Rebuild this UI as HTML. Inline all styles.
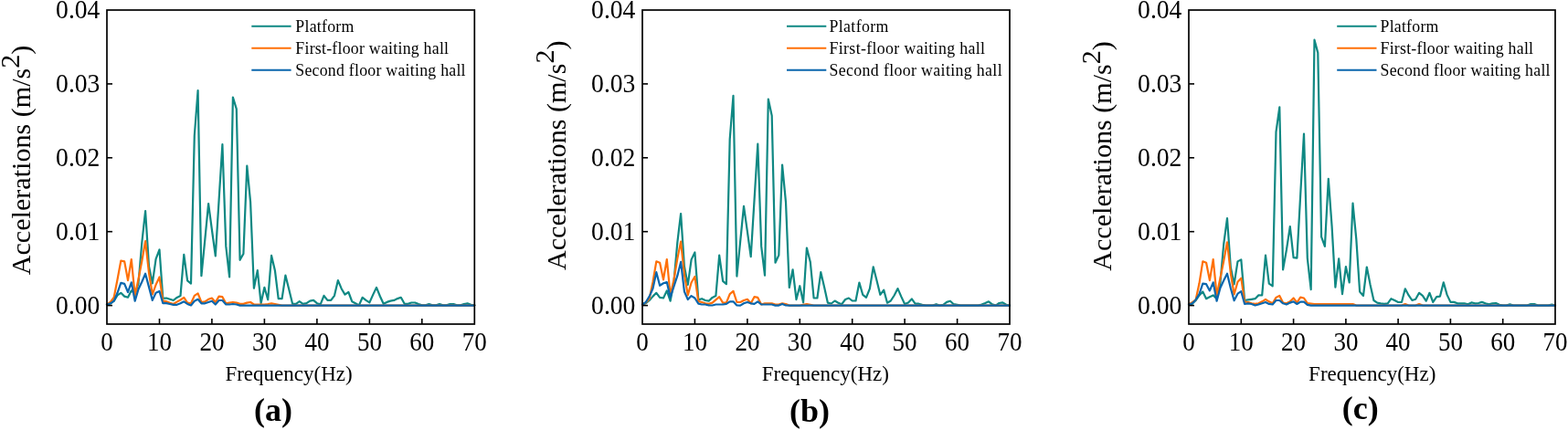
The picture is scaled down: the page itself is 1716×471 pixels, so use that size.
<!DOCTYPE html><html><head><meta charset="utf-8"><title>Acceleration spectra</title><style>html,body{margin:0;padding:0;background:#fff;overflow:hidden}svg{display:block}text{font-family:"Liberation Serif", "Times New Roman", serif;fill:#000}</style></head><body>
<svg width="1716" height="471" viewBox="0 0 1716 471">
<rect width="1716" height="471" fill="#fff"/>
<polyline points="117.0,333.5 120.8,332.5 124.7,329.7 128.5,323.4 132.3,320.8 136.2,324.6 140.0,325.7 143.8,318.3 147.7,321.7 151.5,310.3 155.3,265.8 159.1,231.0 163.0,291.7 166.8,310.3 170.6,283.6 174.5,273.5 178.3,326.9 182.1,326.5 186.0,327.8 189.8,329.0 193.6,325.9 197.5,324.1 201.3,278.8 205.1,307.4 209.0,310.6 212.8,148.5 216.6,99.2 220.4,302.2 224.3,262.6 228.1,223.0 231.9,251.7 235.8,280.4 239.6,219.3 243.4,158.2 247.3,269.9 251.1,303.5 254.9,106.5 258.8,119.4 262.6,284.8 266.4,278.0 270.3,181.7 274.1,221.3 277.9,315.7 281.8,296.2 285.6,332.3 289.4,314.8 293.2,328.3 297.1,279.9 300.9,296.2 304.7,327.1 308.6,327.1 312.4,301.6 316.2,316.8 320.1,332.8 323.9,332.8 327.7,330.2 331.6,332.8 335.4,332.2 339.2,329.6 343.1,328.9 346.9,332.2 350.7,333.4 354.5,323.8 358.4,328.9 362.2,328.9 366.0,323.8 369.9,307.1 373.7,316.2 377.5,322.6 381.4,320.0 385.2,330.2 389.0,332.2 392.9,334.4 396.7,325.8 400.5,328.9 404.4,331.4 408.2,322.9 412.0,314.9 415.9,324.5 419.7,332.8 423.5,330.9 427.3,329.6 431.2,328.9 435.0,327.1 438.8,325.8 442.7,332.8 446.5,332.8 450.3,331.5 454.2,331.5 458.0,333.1 461.8,334.4 465.7,334.4 469.5,333.1 473.3,334.4 477.2,334.4 481.0,333.1 484.8,334.4 488.6,334.4 492.5,333.1 496.3,333.1 500.1,334.4 504.0,334.4 507.8,333.1 511.6,332.4 515.5,333.8 519.3,334.4" fill="none" stroke="#0f8883" stroke-width="2.2" stroke-linejoin="round" stroke-linecap="round"/>
<polyline points="117.0,333.5 120.8,331.0 124.7,325.7 128.5,306.3 132.3,285.7 136.2,286.4 140.0,307.1 143.8,284.0 147.7,324.1 151.5,305.5 155.3,286.1 159.1,264.1 163.0,299.0 166.8,322.5 170.6,311.9 174.5,303.5 178.3,329.7 182.1,330.2 186.0,331.8 189.8,333.0 193.6,330.6 197.5,328.5 201.3,325.9 205.1,331.6 209.0,332.3 212.8,323.9 216.6,321.4 220.4,331.0 224.3,330.3 228.1,327.8 231.9,326.5 235.8,331.0 239.6,324.6 243.4,325.2 247.3,332.3 251.1,331.6 254.9,331.0 258.8,331.6 262.6,332.9 266.4,332.9 270.3,331.6 274.1,331.0 277.9,333.5 281.8,333.5 285.6,333.5 289.4,333.5 293.2,333.0 297.1,332.3 300.9,333.0 304.7,333.8 308.6,334.6 312.4,334.6 316.2,334.6 320.1,334.6 323.9,334.6 327.7,334.6 331.6,334.6 335.4,334.6 339.2,334.6 343.1,334.6 346.9,334.6 350.7,334.6 354.5,334.6 358.4,334.6 362.2,334.6 366.0,334.6 369.9,334.6 373.7,334.6 377.5,334.6 381.4,334.6 385.2,334.6 389.0,334.6 392.9,334.6 396.7,334.6 400.5,334.6 404.4,334.6 408.2,334.6 412.0,334.6 415.9,334.6 419.7,334.6 423.5,334.6 427.3,334.6 431.2,334.6 435.0,334.6 438.8,334.6 442.7,334.6 446.5,334.6 450.3,334.6 454.2,334.6 458.0,334.6 461.8,334.6 465.7,334.6 469.5,334.6 473.3,334.6 477.2,334.6 481.0,334.6 484.8,334.6 488.6,334.6 492.5,334.6 496.3,334.6 500.1,334.6 504.0,334.6 507.8,334.6 511.6,334.6 515.5,334.6 519.3,334.6" fill="none" stroke="#ff7008" stroke-width="2.2" stroke-linejoin="round" stroke-linecap="round"/>
<polyline points="117.0,333.5 120.8,332.3 124.7,329.7 128.5,320.8 132.3,309.9 136.2,310.9 140.0,320.0 143.8,309.3 147.7,329.7 151.5,316.8 155.3,308.7 159.1,299.7 163.0,314.4 166.8,328.9 170.6,320.8 174.5,319.0 178.3,332.2 182.1,332.2 186.0,333.0 189.8,333.8 193.6,333.8 197.5,332.3 201.3,330.3 205.1,332.9 209.0,334.5 212.8,329.7 216.6,327.8 220.4,332.3 224.3,332.3 228.1,331.0 231.9,329.7 235.8,333.5 239.6,329.0 243.4,329.0 247.3,333.5 251.1,333.5 254.9,333.0 258.8,333.5 262.6,334.6 266.4,334.6 270.3,334.6 274.1,334.6 277.9,334.6 281.8,334.6 285.6,334.6 289.4,334.6 293.2,334.6 297.1,334.6 300.9,334.6 304.7,334.6 308.6,334.6 312.4,334.6 316.2,334.6 320.1,334.6 323.9,334.6 327.7,334.6 331.6,334.6 335.4,334.6 339.2,334.6 343.1,334.6 346.9,334.6 350.7,334.6 354.5,334.6 358.4,334.6 362.2,334.6 366.0,334.6 369.9,334.6 373.7,334.6 377.5,334.6 381.4,334.6 385.2,334.6 389.0,334.6 392.9,334.6 396.7,334.6 400.5,334.6 404.4,334.6 408.2,334.6 412.0,334.6 415.9,334.6 419.7,334.6 423.5,334.6 427.3,334.6 431.2,334.6 435.0,334.6 438.8,334.6 442.7,334.6 446.5,334.6 450.3,334.6 454.2,334.6 458.0,334.6 461.8,334.6 465.7,334.6 469.5,334.6 473.3,334.6 477.2,334.6 481.0,334.6 484.8,334.6 488.6,334.6 492.5,334.6 496.3,334.6 500.1,334.6 504.0,334.6 507.8,334.6 511.6,334.6 515.5,334.6 519.3,334.6" fill="none" stroke="#0a66ad" stroke-width="2.2" stroke-linejoin="round" stroke-linecap="round"/>
<rect x="117.0" y="11.0" width="402.3" height="344.0" fill="none" stroke="#000" stroke-width="1.7"/>
<text x="0" y="0" font-size="28" text-anchor="middle" transform="translate(117.0,384.4) scale(0.965,1.045)">0</text>
<line x1="174.5" y1="355.0" x2="174.5" y2="349.0" stroke="#000" stroke-width="1.6"/>
<text x="0" y="0" font-size="28" text-anchor="middle" transform="translate(174.5,384.4) scale(0.965,1.045)">10</text>
<line x1="231.9" y1="355.0" x2="231.9" y2="349.0" stroke="#000" stroke-width="1.6"/>
<text x="0" y="0" font-size="28" text-anchor="middle" transform="translate(231.9,384.4) scale(0.965,1.045)">20</text>
<line x1="289.4" y1="355.0" x2="289.4" y2="349.0" stroke="#000" stroke-width="1.6"/>
<text x="0" y="0" font-size="28" text-anchor="middle" transform="translate(289.4,384.4) scale(0.965,1.045)">30</text>
<line x1="346.9" y1="355.0" x2="346.9" y2="349.0" stroke="#000" stroke-width="1.6"/>
<text x="0" y="0" font-size="28" text-anchor="middle" transform="translate(346.9,384.4) scale(0.965,1.045)">40</text>
<line x1="404.4" y1="355.0" x2="404.4" y2="349.0" stroke="#000" stroke-width="1.6"/>
<text x="0" y="0" font-size="28" text-anchor="middle" transform="translate(404.4,384.4) scale(0.965,1.045)">50</text>
<line x1="461.8" y1="355.0" x2="461.8" y2="349.0" stroke="#000" stroke-width="1.6"/>
<text x="0" y="0" font-size="28" text-anchor="middle" transform="translate(461.8,384.4) scale(0.965,1.045)">60</text>
<text x="0" y="0" font-size="28" text-anchor="middle" transform="translate(519.3,384.4) scale(0.965,1.045)">70</text>
<line x1="117.0" y1="334.6" x2="123.0" y2="334.6" stroke="#000" stroke-width="1.6"/>
<text x="109.4" y="343.9" font-size="27.6" text-anchor="end" transform="translate(0,343.9) scale(1,1.06) translate(0,-343.9)">0.00</text>
<line x1="117.0" y1="253.7" x2="123.0" y2="253.7" stroke="#000" stroke-width="1.6"/>
<text x="109.4" y="263.0" font-size="27.6" text-anchor="end" transform="translate(0,263.0) scale(1,1.06) translate(0,-263.0)">0.01</text>
<line x1="117.0" y1="172.8" x2="123.0" y2="172.8" stroke="#000" stroke-width="1.6"/>
<text x="109.4" y="182.1" font-size="27.6" text-anchor="end" transform="translate(0,182.1) scale(1,1.06) translate(0,-182.1)">0.02</text>
<line x1="117.0" y1="91.9" x2="123.0" y2="91.9" stroke="#000" stroke-width="1.6"/>
<text x="109.4" y="101.2" font-size="27.6" text-anchor="end" transform="translate(0,101.2) scale(1,1.06) translate(0,-101.2)">0.03</text>
<text x="109.4" y="20.3" font-size="27.6" text-anchor="end" transform="translate(0,20.3) scale(1,1.06) translate(0,-20.3)">0.04</text>
<text transform="translate(33.1,49.7) rotate(-90)" font-size="30.1" text-anchor="end">Accelerations (m/s<tspan dy="-12.5">2</tspan><tspan dy="12.5">)</tspan></text>
<text x="246.4" y="417.3" font-size="23">Frequency(Hz)</text>
<text x="278.1" y="461.0" font-size="36" font-weight="bold">(a)</text>
<line x1="275.3" y1="28.75" x2="318.6" y2="28.75" stroke="#0f8883" stroke-width="2.2"/>
<text x="323.3" y="34.8" font-size="17.8" letter-spacing="0.25">Platform</text>
<line x1="275.3" y1="52.75" x2="318.6" y2="52.75" stroke="#ff7008" stroke-width="2.2"/>
<text x="323.3" y="58.8" font-size="17.8" letter-spacing="0.25">First-floor waiting hall</text>
<line x1="275.3" y1="76.75" x2="318.6" y2="76.75" stroke="#0a66ad" stroke-width="2.2"/>
<text x="323.3" y="82.8" font-size="17.8" letter-spacing="0.25">Second floor waiting hall</text>
<polyline points="703.0,333.5 706.8,332.2 710.7,329.0 714.5,324.6 718.3,320.8 722.1,325.9 726.0,326.5 729.8,318.4 733.6,329.7 737.5,308.7 741.3,265.8 745.1,234.0 748.9,291.7 752.8,311.9 756.6,284.4 760.4,276.4 764.3,328.4 768.1,327.2 771.9,329.0 775.7,329.7 779.6,325.9 783.4,324.1 787.2,279.6 791.1,307.9 794.9,311.2 798.7,152.6 802.5,104.8 806.4,302.6 810.2,264.2 814.0,225.8 817.9,253.7 821.7,281.2 825.5,219.7 829.3,157.7 833.2,269.9 837.0,301.7 840.8,108.5 844.7,126.7 848.5,287.7 852.3,279.6 856.1,180.6 860.0,221.3 863.8,315.0 867.6,295.3 871.5,328.1 875.3,313.2 879.1,331.4 882.9,271.5 886.8,286.9 890.6,326.5 894.4,326.5 898.3,298.2 902.1,314.6 905.9,331.7 909.7,332.5 913.6,329.5 917.4,331.7 921.2,333.2 925.1,328.0 928.9,326.5 932.7,329.5 936.5,329.5 940.4,309.5 944.2,322.8 948.0,325.8 951.9,316.1 955.7,292.3 959.5,307.2 963.3,322.8 967.2,317.6 971.0,331.7 974.8,329.5 978.7,323.5 982.5,316.1 986.3,324.9 990.1,333.0 994.0,331.4 997.8,327.4 1001.6,332.7 1005.5,332.7 1009.3,333.8 1013.1,334.6 1016.9,334.6 1020.8,334.6 1024.6,333.2 1028.4,334.6 1032.3,333.8 1036.1,330.9 1039.9,329.7 1043.7,333.2 1047.6,333.8 1051.4,334.6 1055.2,334.6 1059.1,334.6 1062.9,334.6 1066.7,334.6 1070.5,334.6 1074.4,333.6 1078.2,332.0 1082.0,330.3 1085.9,333.4 1089.7,334.6 1093.5,332.0 1097.3,331.4 1101.2,333.8 1105.0,334.6" fill="none" stroke="#0f8883" stroke-width="2.2" stroke-linejoin="round" stroke-linecap="round"/>
<polyline points="703.0,333.5 706.8,331.6 710.7,327.2 714.5,308.7 718.3,286.4 722.1,287.7 726.0,306.3 729.8,284.0 733.6,323.3 737.5,306.3 741.3,283.6 745.1,264.6 748.9,300.6 752.8,323.3 756.6,309.5 760.4,303.0 764.3,330.2 768.1,331.0 771.9,332.3 775.7,332.9 779.6,331.6 783.4,328.4 787.2,325.2 791.1,331.6 794.9,331.6 798.7,322.1 802.5,318.8 806.4,331.0 810.2,331.0 814.0,329.0 817.9,327.8 821.7,332.3 825.5,325.2 829.3,325.9 833.2,333.5 837.0,332.3 840.8,332.3 844.7,332.3 848.5,333.5 852.3,333.5 856.1,332.3 860.0,333.0 863.8,334.6 867.6,334.6 871.5,334.6 875.3,334.6 879.1,333.8 882.9,333.1 886.8,333.8 890.6,334.6 894.4,334.6 898.3,334.6 902.1,334.6 905.9,334.6 909.7,334.6 913.6,334.6 917.4,334.6 921.2,334.6 925.1,334.6 928.9,334.6 932.7,334.6 936.5,334.6 940.4,334.6 944.2,334.6 948.0,334.6 951.9,334.6 955.7,334.6 959.5,334.6 963.3,334.6 967.2,334.6 971.0,334.6 974.8,334.6 978.7,334.6 982.5,334.6 986.3,334.6 990.1,334.6 994.0,334.6 997.8,334.6 1001.6,334.6 1005.5,334.6 1009.3,334.6 1013.1,334.6 1016.9,334.6 1020.8,334.6 1024.6,334.6 1028.4,334.6 1032.3,334.6 1036.1,334.6 1039.9,334.6 1043.7,334.6 1047.6,334.6 1051.4,334.6 1055.2,334.6 1059.1,334.6 1062.9,334.6 1066.7,334.6 1070.5,334.6 1074.4,334.6 1078.2,334.6 1082.0,334.6 1085.9,334.6 1089.7,334.6 1093.5,334.6 1097.3,334.6 1101.2,334.6 1105.0,334.6" fill="none" stroke="#ff7008" stroke-width="2.2" stroke-linejoin="round" stroke-linecap="round"/>
<polyline points="703.0,333.5 706.8,331.0 710.7,324.6 714.5,316.0 718.3,298.2 722.1,312.8 726.0,310.3 729.8,309.1 733.6,325.7 737.5,313.6 741.3,302.2 745.1,286.9 748.9,319.2 752.8,328.1 756.6,324.1 760.4,326.5 764.3,332.6 768.1,333.5 771.9,333.5 775.7,334.5 779.6,334.5 783.4,333.5 787.2,333.5 791.1,333.5 794.9,332.9 798.7,330.3 802.5,330.3 806.4,334.5 810.2,334.6 814.0,332.3 817.9,331.0 821.7,332.3 825.5,332.9 829.3,330.3 833.2,333.5 837.0,333.5 840.8,333.5 844.7,333.5 848.5,334.6 852.3,334.6 856.1,332.9 860.0,334.5 863.8,334.6 867.6,334.6 871.5,334.6 875.3,334.6 879.1,334.6 882.9,334.6 886.8,334.6 890.6,334.6 894.4,334.6 898.3,334.6 902.1,334.6 905.9,334.6 909.7,334.6 913.6,334.6 917.4,334.6 921.2,334.6 925.1,334.6 928.9,334.6 932.7,334.6 936.5,334.6 940.4,334.6 944.2,334.6 948.0,334.6 951.9,334.6 955.7,334.6 959.5,334.6 963.3,334.6 967.2,334.6 971.0,334.6 974.8,334.6 978.7,334.6 982.5,334.6 986.3,334.6 990.1,334.6 994.0,334.6 997.8,334.6 1001.6,334.6 1005.5,334.6 1009.3,334.6 1013.1,334.6 1016.9,334.6 1020.8,334.6 1024.6,334.6 1028.4,334.6 1032.3,334.6 1036.1,334.6 1039.9,334.6 1043.7,334.6 1047.6,334.6 1051.4,334.6 1055.2,334.6 1059.1,334.6 1062.9,334.6 1066.7,334.6 1070.5,334.6 1074.4,334.6 1078.2,334.6 1082.0,334.6 1085.9,334.6 1089.7,334.6 1093.5,334.6 1097.3,334.6 1101.2,334.6 1105.0,334.6" fill="none" stroke="#0a66ad" stroke-width="2.2" stroke-linejoin="round" stroke-linecap="round"/>
<rect x="703.0" y="11.0" width="402.0" height="344.0" fill="none" stroke="#000" stroke-width="1.7"/>
<text x="0" y="0" font-size="28" text-anchor="middle" transform="translate(703.0,384.4) scale(0.965,1.045)">0</text>
<line x1="760.4" y1="355.0" x2="760.4" y2="349.0" stroke="#000" stroke-width="1.6"/>
<text x="0" y="0" font-size="28" text-anchor="middle" transform="translate(760.4,384.4) scale(0.965,1.045)">10</text>
<line x1="817.9" y1="355.0" x2="817.9" y2="349.0" stroke="#000" stroke-width="1.6"/>
<text x="0" y="0" font-size="28" text-anchor="middle" transform="translate(817.9,384.4) scale(0.965,1.045)">20</text>
<line x1="875.3" y1="355.0" x2="875.3" y2="349.0" stroke="#000" stroke-width="1.6"/>
<text x="0" y="0" font-size="28" text-anchor="middle" transform="translate(875.3,384.4) scale(0.965,1.045)">30</text>
<line x1="932.7" y1="355.0" x2="932.7" y2="349.0" stroke="#000" stroke-width="1.6"/>
<text x="0" y="0" font-size="28" text-anchor="middle" transform="translate(932.7,384.4) scale(0.965,1.045)">40</text>
<line x1="990.1" y1="355.0" x2="990.1" y2="349.0" stroke="#000" stroke-width="1.6"/>
<text x="0" y="0" font-size="28" text-anchor="middle" transform="translate(990.1,384.4) scale(0.965,1.045)">50</text>
<line x1="1047.6" y1="355.0" x2="1047.6" y2="349.0" stroke="#000" stroke-width="1.6"/>
<text x="0" y="0" font-size="28" text-anchor="middle" transform="translate(1047.6,384.4) scale(0.965,1.045)">60</text>
<text x="0" y="0" font-size="28" text-anchor="middle" transform="translate(1105.0,384.4) scale(0.965,1.045)">70</text>
<line x1="703.0" y1="334.6" x2="709.0" y2="334.6" stroke="#000" stroke-width="1.6"/>
<text x="695.4" y="343.9" font-size="27.6" text-anchor="end" transform="translate(0,343.9) scale(1,1.06) translate(0,-343.9)">0.00</text>
<line x1="703.0" y1="253.7" x2="709.0" y2="253.7" stroke="#000" stroke-width="1.6"/>
<text x="695.4" y="263.0" font-size="27.6" text-anchor="end" transform="translate(0,263.0) scale(1,1.06) translate(0,-263.0)">0.01</text>
<line x1="703.0" y1="172.8" x2="709.0" y2="172.8" stroke="#000" stroke-width="1.6"/>
<text x="695.4" y="182.1" font-size="27.6" text-anchor="end" transform="translate(0,182.1) scale(1,1.06) translate(0,-182.1)">0.02</text>
<line x1="703.0" y1="91.9" x2="709.0" y2="91.9" stroke="#000" stroke-width="1.6"/>
<text x="695.4" y="101.2" font-size="27.6" text-anchor="end" transform="translate(0,101.2) scale(1,1.06) translate(0,-101.2)">0.03</text>
<text x="695.4" y="20.3" font-size="27.6" text-anchor="end" transform="translate(0,20.3) scale(1,1.06) translate(0,-20.3)">0.04</text>
<text transform="translate(618.7,44.5) rotate(-90)" font-size="30.1" text-anchor="end">Accelerations (m/s<tspan dy="-12.5">2</tspan><tspan dy="12.5">)</tspan></text>
<text x="833.7" y="417.3" font-size="23">Frequency(Hz)</text>
<text x="864.0" y="461.6" font-size="36" font-weight="bold">(b)</text>
<line x1="861.0" y1="28.75" x2="904.3" y2="28.75" stroke="#0f8883" stroke-width="2.2"/>
<text x="907.5" y="34.8" font-size="17.8" letter-spacing="0.37">Platform</text>
<line x1="861.0" y1="52.75" x2="904.3" y2="52.75" stroke="#ff7008" stroke-width="2.2"/>
<text x="907.5" y="58.8" font-size="17.8" letter-spacing="0.37">First-floor waiting hall</text>
<line x1="861.0" y1="76.75" x2="904.3" y2="76.75" stroke="#0a66ad" stroke-width="2.2"/>
<text x="907.5" y="82.8" font-size="17.8" letter-spacing="0.37">Second floor waiting hall</text>
<polyline points="1301.0,333.5 1304.8,332.8 1308.6,329.0 1312.5,323.4 1316.3,319.5 1320.1,327.2 1323.9,325.2 1327.7,323.4 1331.6,327.3 1335.4,310.3 1339.2,267.5 1343.0,239.1 1346.8,292.5 1350.6,311.4 1354.5,286.4 1358.3,284.4 1362.1,329.0 1365.9,328.4 1369.7,327.8 1373.6,327.2 1377.4,323.4 1381.2,323.5 1385.0,279.6 1388.8,310.7 1392.7,313.3 1396.5,144.5 1400.3,117.3 1404.1,295.4 1407.9,273.9 1411.8,248.2 1415.6,282.1 1419.4,282.7 1423.2,213.3 1427.0,146.6 1430.8,282.8 1434.7,317.1 1438.5,43.7 1442.3,57.9 1446.1,259.4 1449.9,269.9 1453.8,195.9 1457.6,248.0 1461.4,314.6 1465.2,283.4 1469.0,322.2 1472.9,292.1 1476.7,309.4 1480.5,222.7 1484.3,261.8 1488.1,319.5 1492.0,323.9 1495.8,292.5 1499.6,311.9 1503.4,329.0 1507.2,331.6 1511.0,332.3 1514.9,332.9 1518.7,332.3 1522.5,327.2 1526.3,329.0 1530.1,331.0 1534.0,331.0 1537.8,316.3 1541.6,323.4 1545.4,329.0 1549.2,327.8 1553.1,320.8 1556.9,323.9 1560.7,329.7 1564.5,320.8 1568.3,331.0 1572.2,325.2 1576.0,324.6 1579.8,309.3 1583.6,322.9 1587.4,330.9 1591.2,330.9 1595.1,332.3 1598.9,332.3 1602.7,332.3 1606.5,333.2 1610.3,331.4 1614.2,332.3 1618.0,332.0 1621.8,330.9 1625.6,332.3 1629.4,333.4 1633.3,332.3 1637.1,332.0 1640.9,333.8 1644.7,334.6 1648.5,334.6 1652.4,333.4 1656.2,334.6 1660.0,334.6 1663.8,334.6 1667.6,334.6 1671.4,334.6 1675.3,333.0 1679.1,333.0 1682.9,334.6 1686.7,334.6 1690.5,334.6 1694.4,334.6 1698.2,333.6 1702.0,334.6" fill="none" stroke="#0f8883" stroke-width="2.2" stroke-linejoin="round" stroke-linecap="round"/>
<polyline points="1301.0,332.9 1304.8,331.2 1308.6,328.5 1312.5,310.3 1316.3,286.4 1320.1,287.7 1323.9,307.1 1327.7,284.0 1331.6,323.3 1335.4,304.7 1339.2,286.1 1343.0,265.3 1346.8,299.0 1350.6,322.5 1354.5,308.7 1358.3,304.7 1362.1,330.6 1365.9,331.0 1369.7,332.3 1373.6,332.9 1377.4,332.3 1381.2,330.3 1385.0,327.8 1388.8,330.3 1392.7,332.3 1396.5,325.9 1400.3,323.9 1404.1,331.6 1407.9,332.3 1411.8,330.3 1415.6,326.5 1419.4,331.4 1423.2,325.7 1427.0,326.5 1430.8,332.2 1434.7,332.6 1438.5,333.0 1442.3,333.0 1446.1,333.0 1449.9,333.0 1453.8,333.0 1457.6,333.0 1461.4,333.0 1465.2,333.0 1469.0,333.0 1472.9,333.0 1476.7,333.0 1480.5,333.0 1484.3,334.6 1488.1,334.6 1492.0,334.6 1495.8,334.6 1499.6,334.6 1503.4,334.6 1507.2,334.6 1511.0,334.6 1514.9,334.6 1518.7,334.6 1522.5,334.6 1526.3,334.6 1530.1,334.6 1534.0,334.6 1537.8,333.0 1541.6,334.6 1545.4,334.6 1549.2,334.6 1553.1,333.0 1556.9,334.6 1560.7,334.6 1564.5,334.6 1568.3,334.6 1572.2,334.6 1576.0,334.6 1579.8,334.6 1583.6,334.6 1587.4,334.6 1591.2,334.6 1595.1,334.6 1598.9,334.6 1602.7,334.6 1606.5,334.6 1610.3,334.6 1614.2,334.6 1618.0,334.6 1621.8,334.6 1625.6,334.6 1629.4,334.6 1633.3,334.6 1637.1,334.6 1640.9,334.6 1644.7,334.6 1648.5,334.6 1652.4,334.6 1656.2,334.6 1660.0,334.6 1663.8,334.6 1667.6,334.6 1671.4,334.6 1675.3,334.6 1679.1,334.6 1682.9,334.6 1686.7,334.6 1690.5,334.6 1694.4,334.6 1698.2,334.6 1702.0,334.6" fill="none" stroke="#ff7008" stroke-width="2.2" stroke-linejoin="round" stroke-linecap="round"/>
<polyline points="1301.0,333.5 1304.8,332.3 1308.6,328.4 1312.5,322.1 1316.3,310.6 1320.1,311.2 1323.9,318.4 1327.7,309.3 1331.6,329.7 1335.4,315.5 1339.2,307.3 1343.0,299.7 1346.8,315.5 1350.6,329.3 1354.5,321.7 1358.3,319.2 1362.1,333.0 1365.9,332.3 1369.7,333.0 1373.6,334.5 1377.4,333.5 1381.2,332.3 1385.0,331.0 1388.8,332.9 1392.7,333.5 1396.5,329.0 1400.3,329.0 1404.1,332.3 1407.9,333.5 1411.8,331.6 1415.6,330.3 1419.4,333.0 1423.2,330.6 1427.0,330.6 1430.8,333.8 1434.7,334.6 1438.5,334.6 1442.3,334.6 1446.1,334.6 1449.9,334.6 1453.8,334.6 1457.6,334.6 1461.4,334.6 1465.2,334.6 1469.0,334.6 1472.9,334.6 1476.7,334.6 1480.5,334.6 1484.3,334.6 1488.1,334.6 1492.0,334.6 1495.8,334.6 1499.6,334.6 1503.4,334.6 1507.2,334.6 1511.0,334.6 1514.9,334.6 1518.7,334.6 1522.5,334.6 1526.3,334.6 1530.1,334.6 1534.0,334.6 1537.8,334.6 1541.6,334.6 1545.4,334.6 1549.2,334.6 1553.1,334.6 1556.9,334.6 1560.7,334.6 1564.5,334.6 1568.3,334.6 1572.2,334.6 1576.0,334.6 1579.8,334.6 1583.6,334.6 1587.4,334.6 1591.2,334.6 1595.1,334.6 1598.9,334.6 1602.7,334.6 1606.5,334.6 1610.3,334.6 1614.2,334.6 1618.0,334.6 1621.8,334.6 1625.6,334.6 1629.4,334.6 1633.3,334.6 1637.1,334.6 1640.9,334.6 1644.7,334.6 1648.5,334.6 1652.4,334.6 1656.2,334.6 1660.0,334.6 1663.8,334.6 1667.6,334.6 1671.4,334.6 1675.3,334.6 1679.1,334.6 1682.9,334.6 1686.7,334.6 1690.5,334.6 1694.4,334.6 1698.2,334.6 1702.0,334.6" fill="none" stroke="#0a66ad" stroke-width="2.2" stroke-linejoin="round" stroke-linecap="round"/>
<rect x="1301.0" y="11.0" width="401.0" height="344.0" fill="none" stroke="#000" stroke-width="1.7"/>
<text x="0" y="0" font-size="28" text-anchor="middle" transform="translate(1301.0,384.4) scale(0.965,1.045)">0</text>
<line x1="1358.3" y1="355.0" x2="1358.3" y2="349.0" stroke="#000" stroke-width="1.6"/>
<text x="0" y="0" font-size="28" text-anchor="middle" transform="translate(1358.3,384.4) scale(0.965,1.045)">10</text>
<line x1="1415.6" y1="355.0" x2="1415.6" y2="349.0" stroke="#000" stroke-width="1.6"/>
<text x="0" y="0" font-size="28" text-anchor="middle" transform="translate(1415.6,384.4) scale(0.965,1.045)">20</text>
<line x1="1472.9" y1="355.0" x2="1472.9" y2="349.0" stroke="#000" stroke-width="1.6"/>
<text x="0" y="0" font-size="28" text-anchor="middle" transform="translate(1472.9,384.4) scale(0.965,1.045)">30</text>
<line x1="1530.1" y1="355.0" x2="1530.1" y2="349.0" stroke="#000" stroke-width="1.6"/>
<text x="0" y="0" font-size="28" text-anchor="middle" transform="translate(1530.1,384.4) scale(0.965,1.045)">40</text>
<line x1="1587.4" y1="355.0" x2="1587.4" y2="349.0" stroke="#000" stroke-width="1.6"/>
<text x="0" y="0" font-size="28" text-anchor="middle" transform="translate(1587.4,384.4) scale(0.965,1.045)">50</text>
<line x1="1644.7" y1="355.0" x2="1644.7" y2="349.0" stroke="#000" stroke-width="1.6"/>
<text x="0" y="0" font-size="28" text-anchor="middle" transform="translate(1644.7,384.4) scale(0.965,1.045)">60</text>
<text x="0" y="0" font-size="28" text-anchor="middle" transform="translate(1702.0,384.4) scale(0.965,1.045)">70</text>
<line x1="1301.0" y1="334.6" x2="1307.0" y2="334.6" stroke="#000" stroke-width="1.6"/>
<text x="1293.4" y="343.9" font-size="27.6" text-anchor="end" transform="translate(0,343.9) scale(1,1.06) translate(0,-343.9)">0.00</text>
<line x1="1301.0" y1="253.7" x2="1307.0" y2="253.7" stroke="#000" stroke-width="1.6"/>
<text x="1293.4" y="263.0" font-size="27.6" text-anchor="end" transform="translate(0,263.0) scale(1,1.06) translate(0,-263.0)">0.01</text>
<line x1="1301.0" y1="172.8" x2="1307.0" y2="172.8" stroke="#000" stroke-width="1.6"/>
<text x="1293.4" y="182.1" font-size="27.6" text-anchor="end" transform="translate(0,182.1) scale(1,1.06) translate(0,-182.1)">0.02</text>
<line x1="1301.0" y1="91.9" x2="1307.0" y2="91.9" stroke="#000" stroke-width="1.6"/>
<text x="1293.4" y="101.2" font-size="27.6" text-anchor="end" transform="translate(0,101.2) scale(1,1.06) translate(0,-101.2)">0.03</text>
<text x="1293.4" y="20.3" font-size="27.6" text-anchor="end" transform="translate(0,20.3) scale(1,1.06) translate(0,-20.3)">0.04</text>
<text transform="translate(1216.2,45.2) rotate(-90)" font-size="30.1" text-anchor="end">Accelerations (m/s<tspan dy="-12.5">2</tspan><tspan dy="12.5">)</tspan></text>
<text x="1432.1" y="417.3" font-size="23">Frequency(Hz)</text>
<text x="1468.7" y="459.0" font-size="36" font-weight="bold">(c)</text>
<line x1="1463.2" y1="28.75" x2="1506.5" y2="28.75" stroke="#0f8883" stroke-width="2.2"/>
<text x="1510.5" y="34.8" font-size="17.8" letter-spacing="0.24">Platform</text>
<line x1="1463.2" y1="52.75" x2="1506.5" y2="52.75" stroke="#ff7008" stroke-width="2.2"/>
<text x="1510.5" y="58.8" font-size="17.8" letter-spacing="0.24">First-floor waiting hall</text>
<line x1="1463.2" y1="76.75" x2="1506.5" y2="76.75" stroke="#0a66ad" stroke-width="2.2"/>
<text x="1510.5" y="82.8" font-size="17.8" letter-spacing="0.24">Second floor waiting hall</text>
</svg></body></html>
